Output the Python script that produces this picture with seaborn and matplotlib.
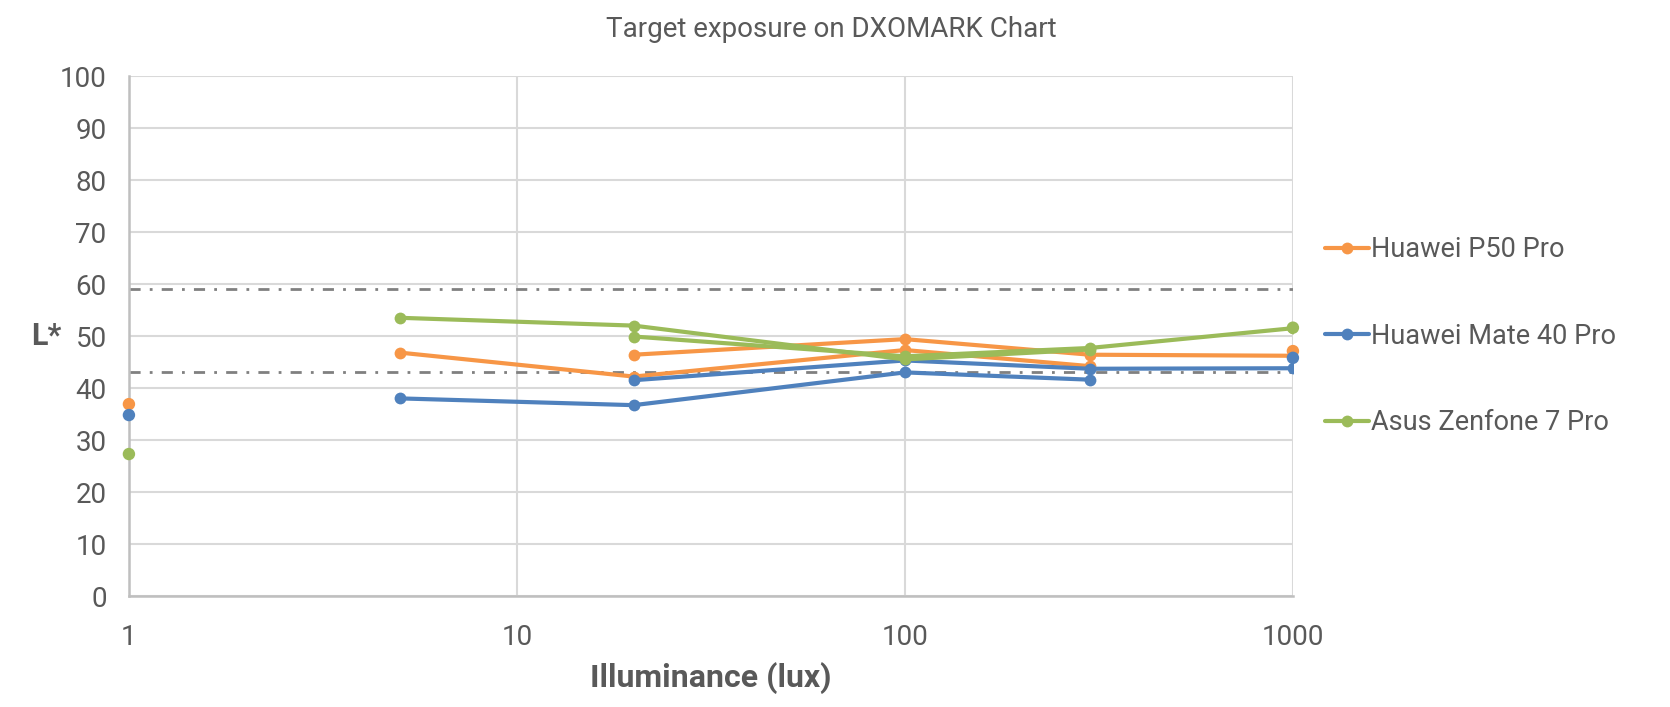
import numpy as np
import pandas as pd
import matplotlib
matplotlib.use("Agg")
import matplotlib.pyplot as plt
import seaborn as sns
from matplotlib.lines import Line2D

# ---------------- data ----------------
devices = ["Huawei P50 Pro", "Huawei Mate 40 Pro", "Asus Zenfone 7 Pro"]
colors = ["#F79646", "#4F81BD", "#9BBB59"]

lux_a = [5, 20, 100, 300]
lux_b = [20, 100, 300, 1000]
lux_single = [1, 1000]

p50_a = [46.8, 42.2, 47.3, 44.2]
p50_b = [46.4, 49.4, 46.4, 46.2]
p50_single = [36.9, 47.1]

mate_a = [38.0, 36.7, 43.0, 41.6]
mate_b = [41.5, 45.3, 43.7, 43.8]
mate_single = [34.8, 45.8]

zen_a = [53.5, 52.0, 45.5, 47.4]
zen_b = [49.9, 46.1, 47.7, 51.5]
zen_single = [27.3, 51.6]

target_bounds = [59, 43]

y_ticks = list(range(0, 101, 10))
x_ticks = [1, 10, 100, 1000]

# ---------------- frames ----------------
rows = []
for dev, a, b in zip(devices, [p50_a, mate_a, zen_a], [p50_b, mate_b, zen_b]):
    for x, y in zip(lux_a, a):
        rows.append((dev, "A", x, y))
    for x, y in zip(lux_b, b):
        rows.append((dev, "B", x, y))
lines_df = pd.DataFrame(rows, columns=["device", "trace", "lux", "L"])

srows = []
for dev, s in zip(devices, [p50_single, mate_single, zen_single]):
    for x, y in zip(lux_single, s):
        srows.append((dev, x, y))
single_df = pd.DataFrame(srows, columns=["device", "lux", "L"])

# ---------------- plot ----------------
sns.set_style("white")
plt.rcParams["font.family"] = ["Roboto", "DejaVu Sans"]
text_col = "#595959"

fig = plt.figure(figsize=(16.7, 7.07), dpi=100)
ax = fig.add_axes([0.0772, 0.157, 0.697, 0.7355])

pal = dict(zip(devices, colors))

for yb in target_bounds:
    ax.axhline(yb, color="#808080", lw=2.0, linestyle=(0, (4, 3.3, 1, 3.3)), zorder=2)

sns.lineplot(data=lines_df, x="lux", y="L", hue="device", units="trace",
             estimator=None, sort=False, palette=pal, hue_order=devices,
             marker="o", markersize=8.5, markeredgewidth=0, linewidth=3,
             ax=ax, legend=False, zorder=3)
sns.scatterplot(data=single_df, x="lux", y="L", hue="device", palette=pal,
                hue_order=devices, s=80, linewidth=0, ax=ax, legend=False,
                zorder=4, clip_on=False)

ax.set_xscale("log")
ax.set_xlim(1, 1000)
ax.set_ylim(0, 100)
ax.set_xticks(x_ticks)
ax.set_xticklabels([str(t) for t in x_ticks])
ax.set_yticks(y_ticks)
ax.xaxis.set_minor_locator(matplotlib.ticker.NullLocator())
ax.grid(True, which="major", color="#D9D9D9", lw=1.5, zorder=0)
ax.set_axisbelow(True)

for s in ["top", "right"]:
    ax.spines[s].set_visible(False)
for s in ["left", "bottom"]:
    ax.spines[s].set_color("#BFBFBF")
    ax.spines[s].set_linewidth(1.8)

ax.tick_params(axis="both", length=0, labelsize=20, colors=text_col)
ax.tick_params(axis="x", pad=20)
ax.tick_params(axis="y", pad=16)

ax.set_xlabel("Illuminance (lux)", fontsize=23, fontweight="bold", color=text_col, labelpad=8)
ax.set_ylabel("L*", fontsize=22, fontweight="bold", color=text_col, rotation=0,
              ha="center", va="center", labelpad=0)
ax.yaxis.set_label_coords(-0.071, 0.5)

fig.text(0.4975, 0.958, "Target exposure on DXOMARK Chart", ha="center", va="center",
         fontsize=20, color=text_col)

handles = [Line2D([0], [0], color=c, lw=3, marker="o", markersize=8.5, markeredgewidth=0)
           for c in colors]
leg = fig.legend(handles, devices, loc="center left", bbox_to_anchor=(0.779, 0.5245),
                 frameon=False, fontsize=19.5, labelspacing=2.2, handlelength=1.6,
                 handletextpad=0.1, labelcolor=text_col)

fig.savefig("out.png", dpi=100)
